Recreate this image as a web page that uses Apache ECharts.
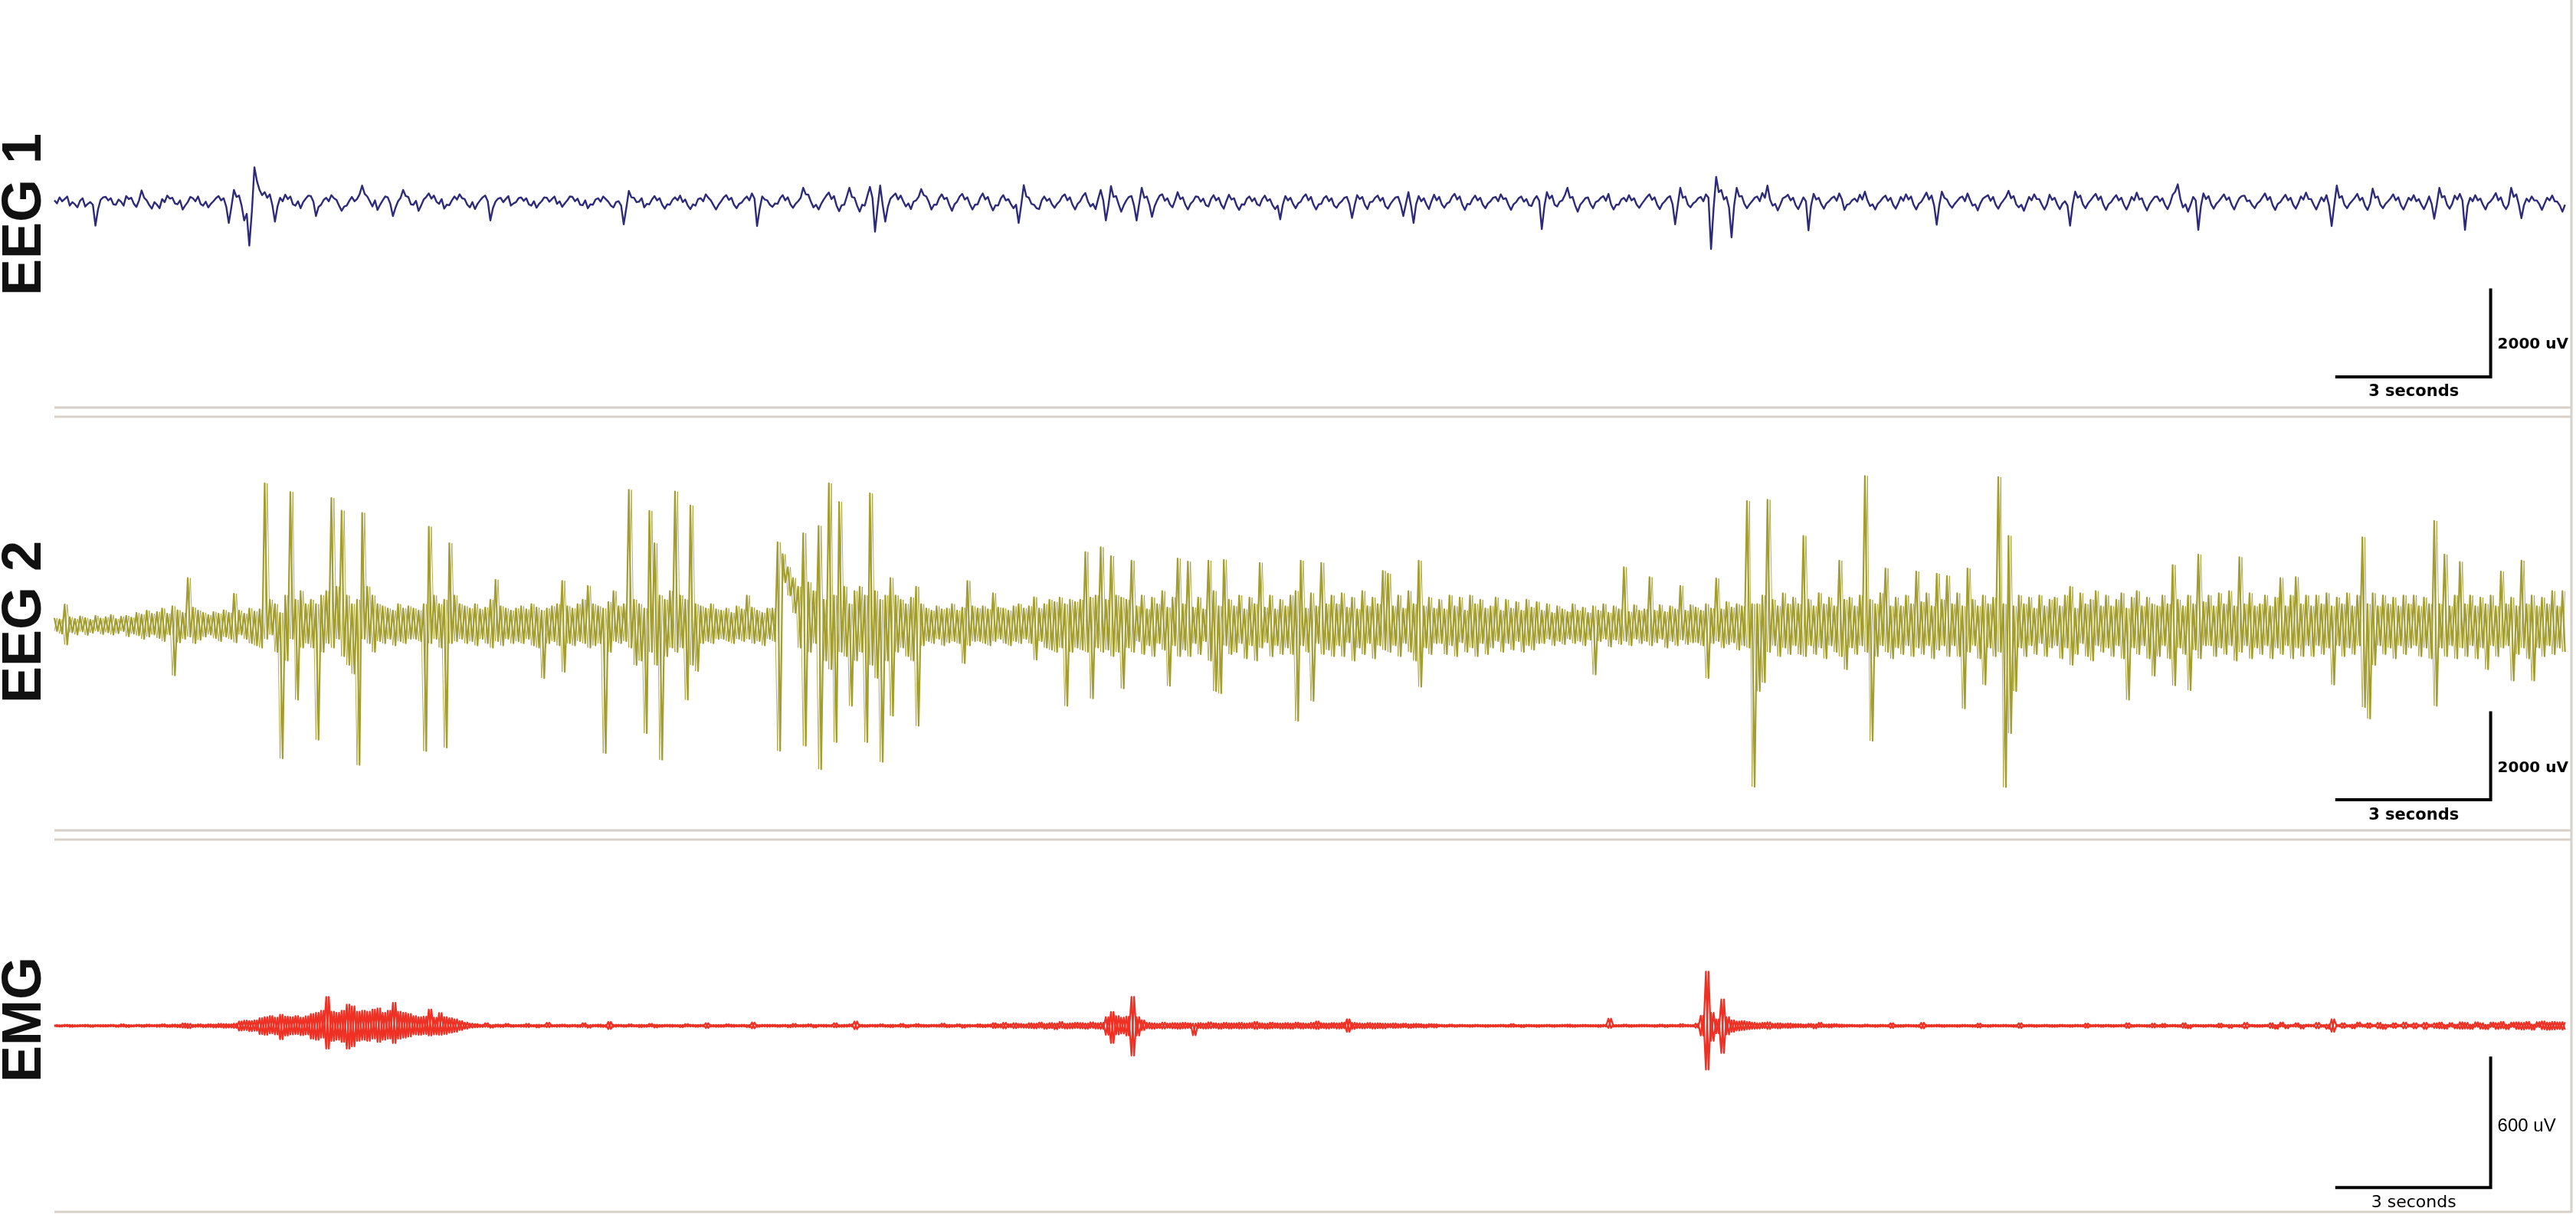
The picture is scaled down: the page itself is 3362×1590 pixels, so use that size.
<!DOCTYPE html>
<html>
<head>
<meta charset="utf-8">
<script src="https://cdn.jsdelivr.net/npm/echarts@6/dist/echarts.min.js"></script>
<style>html,body{margin:0;padding:0;background:#fff;}#chart{width:3362px;height:1590px;}</style>
</head>
<body>
<div id="chart"></div>
<script>
// ---------------- data ----------------
const channelLabels = ['EEG 1', 'EEG 2', 'EMG'];
const scaleBarUnits = ['2000 uV', '2000 uV', '600 uV'];
const scaleBarAmplitude = [2000, 2000, 600];   // uV
const scaleBarDuration = 3;                     // seconds
const scaleBarTimeLabel = '3 seconds';
const eeg1Step = 0.05;                          // seconds per EEG 1 sample
const binStep = 0.1;                            // seconds per EEG 2 / EMG bin
const recordLength = 49;                        // seconds shown

// EEG 1 : one sample every 0.05 s (uV), one second per row
const eeg1 = [
60,-10,130,40,90,150,-60,20,-30,-100,50,110,-80,-20,20,-40,-520,-150,70,130,
140,60,110,-30,-40,80,30,-60,160,90,120,-20,-90,60,290,120,60,-50,-130,20,
-40,-120,90,20,170,100,120,-10,-30,60,-150,-60,20,140,110,40,150,-20,-60,30,
-100,-20,40,110,160,60,110,-80,-460,-100,300,140,170,-60,-400,-250,-980,-200,820,500,
300,180,250,120,200,-50,-430,-80,120,40,190,90,150,-30,-60,40,-120,20,100,170,
160,30,-300,-90,-40,70,120,40,180,110,70,-60,-180,-80,-60,50,140,40,90,200,
400,210,150,40,-80,60,-160,-40,60,150,130,-20,-300,-110,40,120,300,160,140,-30,
-40,50,-180,-60,80,140,220,100,170,30,-20,90,-130,-40,-50,60,150,80,200,110,
90,-40,-100,20,-140,-20,60,130,170,40,-400,-120,30,100,120,20,90,160,-60,-10,
20,110,130,50,110,-30,-60,40,-110,-20,40,130,120,30,90,150,-20,40,-90,-10,
60,150,140,40,100,-40,-50,60,-120,-30,-40,80,110,30,150,90,30,-60,-100,20,
40,-60,-490,-120,280,130,120,20,30,110,-100,-20,-30,80,160,60,110,-40,-130,-30,
-40,70,130,60,170,20,80,-60,-140,-30,-60,90,110,40,200,120,60,-50,-150,-40,
40,130,180,70,120,-40,-120,-20,10,90,150,60,220,100,-530,-140,150,80,60,-40,
-90,-10,-20,110,180,60,130,-30,-110,-20,40,120,350,200,190,30,-100,-40,-150,-20,
80,170,240,90,160,-60,-190,-50,-40,150,350,140,120,-60,-200,-40,-60,160,370,120,
-660,-100,400,-50,-430,-90,100,160,220,80,170,40,-80,-10,-140,30,60,140,320,180,
150,20,-150,-40,-40,110,200,90,120,-50,-180,-30,30,150,210,80,130,-30,-150,-40,
-30,120,220,80,140,-40,-170,-50,-60,100,180,60,90,-30,-120,-40,-460,-50,410,150,
120,-20,-40,-120,-140,60,150,50,100,-30,-110,-20,40,150,200,60,130,-40,-150,-20,
40,160,230,40,-80,-20,-140,90,300,60,-400,-60,390,140,160,-30,-200,-50,60,140,
160,-60,-400,-20,350,120,150,-40,-320,-80,60,170,200,50,110,-30,-100,60,250,90,
130,-40,-150,-20,40,150,140,30,100,-50,-80,90,180,60,120,-40,-130,40,190,80,
110,-60,-160,-30,-40,100,150,40,110,-30,-60,90,170,50,90,-50,-140,-60,-375,-40,
160,60,120,-20,-120,-10,30,140,200,60,140,-40,-150,-30,-20,110,160,40,110,-60,
-110,-10,40,120,140,-30,-345,-60,180,90,140,-40,-140,20,30,120,170,50,120,-70,
-130,-20,60,130,140,-40,-300,-20,250,-60,-460,-30,160,40,110,-30,-140,40,190,60,
140,-30,-110,-10,20,140,210,80,150,-40,-160,-20,-30,90,170,60,120,-40,-120,-10,
40,120,140,40,200,90,110,-40,-160,-30,20,110,150,30,90,-50,-70,80,160,50,
-600,-80,250,100,170,-40,-80,30,60,180,350,120,140,-50,-200,-40,30,110,130,-30,
-120,20,50,120,160,50,210,-30,-150,-40,-40,80,120,40,180,60,110,-40,-110,-20,
60,140,200,70,130,-40,-140,-20,40,120,160,-30,-490,-60,350,120,150,-40,-100,-10,
30,110,140,40,200,120,-1060,-120,600,250,300,80,140,-100,-790,-60,350,150,160,-20,
-120,-30,40,120,150,40,230,120,400,80,-60,-20,-170,-40,110,140,190,60,120,-50,
-140,-10,130,40,-630,-60,210,80,120,-30,-130,-10,40,110,150,50,220,90,-160,-40,
-20,60,100,30,190,80,260,60,-70,-30,-150,-20,40,120,170,50,120,-40,-130,-10,
140,50,200,80,150,-40,-150,-20,30,130,240,80,170,-60,-500,-50,260,120,80,-40,
-110,-20,50,120,150,40,220,70,-60,-30,-170,-10,100,140,180,50,140,-40,-130,-20,
60,140,280,110,160,-30,-100,-40,-180,-20,140,60,200,90,90,-40,-150,-30,190,70,
120,-30,-140,-20,40,-60,-520,-40,260,120,170,-30,-120,-10,60,140,210,70,150,-40,
-160,-30,20,110,180,60,120,-40,-150,-20,140,60,240,80,110,-50,-170,-30,60,140,
150,40,110,-40,-140,-10,190,260,430,100,-100,-30,-200,-40,140,60,-620,-80,220,90,
160,-30,-130,-20,40,120,200,70,130,-40,-150,-10,110,160,170,40,60,-50,-120,-10,
40,130,220,70,140,-50,-160,-20,20,110,190,60,120,-40,-130,-10,150,80,240,90,
90,-40,-150,-10,130,40,180,-60,-530,-50,400,120,160,-40,-120,-20,50,120,210,60,
120,-60,-160,-10,330,120,150,-40,-120,-20,40,110,200,60,130,-50,-150,-20,120,60,
180,40,90,-40,-140,-10,150,-20,-360,-40,350,130,160,-40,-130,-20,170,80,210,60,
-620,-70,120,40,180,60,100,-40,-150,-10,40,120,230,60,130,-50,-140,-30,350,140,
200,-40,-350,-50,100,30,150,60,60,-30,-160,-20,120,60,170,40,30,-60,-200,-40
];

// EEG 2 : highest and lowest value inside each 0.1 s bin (uV)
const eeg2Max = [
180,150,490,200,160,220,180,140,230,170,
200,250,160,210,230,190,300,260,350,280,
320,400,280,450,360,300,1100,420,350,300,
250,320,280,360,300,740,350,280,400,330,
380,3280,600,500,300,700,3080,600,800,500,
600,500,700,800,2940,900,2650,700,500,600,
2600,900,700,500,450,400,350,500,400,450,
400,350,500,2280,700,500,600,1900,700,500,
450,400,500,380,420,600,1060,450,400,350,
400,450,380,500,420,350,400,450,500,1035,
450,400,500,600,920,500,450,400,550,800,
450,500,3130,600,500,400,2645,1900,700,600,
800,3090,700,600,2770,500,450,400,500,380,
350,400,300,450,380,700,420,350,300,400,
400,1925,1650,1350,1100,900,2130,1000,800,2300,
600,3280,700,2850,900,500,800,900,700,3050,
800,600,700,1100,700,600,500,650,900,500,
400,350,450,380,400,500,350,420,1035,450,
400,450,380,750,420,400,350,450,500,400,
450,660,400,500,600,550,650,500,600,550,
600,1700,650,700,1810,600,1600,700,650,600,
1500,450,700,380,650,500,800,420,650,1550,
500,1480,420,650,380,1500,800,450,1520,600,
450,700,380,650,500,1450,420,700,380,600,
450,700,800,1500,400,750,450,1450,500,700,
500,750,420,650,380,800,450,650,500,1265,
1200,450,700,400,800,500,1500,450,650,400,
600,380,700,450,650,350,700,500,600,400,
450,650,350,600,400,550,350,600,420,550,
350,500,300,450,380,320,500,350,420,300,
450,350,500,300,450,380,1350,320,480,350,
380,1120,350,480,320,450,380,920,350,480,
420,350,500,400,1090,380,550,420,500,450,
2870,500,500,700,2900,600,450,750,500,650,
500,2070,600,450,750,500,650,450,1500,600,
650,450,700,3450,600,500,750,1320,450,650,
450,700,500,1250,550,750,450,1200,600,1150,
500,750,450,1320,600,450,700,500,650,3420,
500,2070,450,700,500,650,400,700,450,600,
650,450,700,900,400,750,500,600,800,450,
700,450,600,750,400,650,800,450,650,500,
450,700,500,1400,600,450,700,500,1640,550,
700,450,750,500,800,450,1580,500,750,450,
500,700,450,650,1100,450,700,1120,500,700,
450,700,500,750,450,650,500,750,450,700,
2040,500,750,450,700,500,650,450,700,500,
700,450,650,500,2415,500,1640,450,700,1470,
500,700,450,650,500,700,450,1250,500,650,
450,1500,500,700,450,650,500,800,450,800
];
const eeg2Min = [
-120,-180,-430,-150,-200,-130,-210,-160,-120,-190,
-150,-200,-170,-120,-240,-180,-220,-300,-250,-200,
-280,-350,-200,-1140,-380,-300,-250,-400,-320,-250,
-200,-280,-350,-250,-300,-380,-200,-300,-400,-450,
-500,-300,-200,-600,-3050,-800,-300,-1700,-500,-400,
-500,-2620,-600,-400,-500,-300,-700,-900,-1100,-3200,
-300,-400,-600,-350,-400,-300,-450,-350,-400,-300,
-300,-350,-2880,-400,-300,-500,-2800,-400,-350,-300,
-400,-350,-450,-300,-400,-500,-350,-450,-300,-400,
-350,-400,-300,-450,-500,-1200,-400,-350,-450,-1060,
-400,-450,-350,-400,-500,-450,-400,-2930,-600,-350,
-400,-350,-500,-900,-800,-2470,-600,-900,-3080,-700,
-500,-600,-500,-1700,-900,-1040,-400,-350,-400,-300,
-300,-350,-400,-300,-350,-300,-400,-350,-450,-300,
-350,-2875,1000,700,300,-500,-2760,-600,-400,-3300,
-800,-1000,-2675,-600,-700,-1840,-800,-600,-2675,-900,
-1200,-3130,-800,-2070,-600,-500,-700,-800,-2300,-450,
-350,-400,-300,-450,-380,-350,-400,-860,-450,-350,
-350,-400,-450,-350,-300,-400,-450,-350,-400,-300,
-400,-780,-350,-500,-550,-600,-500,-1840,-600,-500,
-550,-600,-1670,-500,-600,-550,-700,-600,-1440,-500,
-600,-350,-650,-450,-700,-400,-550,-1380,-450,-700,
-550,-700,-400,-650,-350,-800,-1500,-1550,-450,-650,
-600,-400,-750,-450,-800,-500,-380,-700,-450,-650,
-500,-650,-2185,-450,-600,-1725,-400,-650,-550,-700,
-450,-700,-380,-800,-500,-650,-400,-750,-450,-550,
-600,-450,-700,-400,-600,-800,-1400,-500,-650,-400,
-400,-650,-450,-700,-380,-600,-500,-700,-400,-650,
-500,-350,-600,-400,-550,-350,-600,-450,-550,-400,
-400,-300,-450,-350,-420,-300,-400,-350,-450,-320,
-1120,-350,-300,-480,-320,-420,-350,-450,-300,-400,
-350,-450,-380,-300,-500,-350,-450,-320,-420,-380,
-380,-450,-1200,-400,-350,-500,-420,-380,-550,-450,
-500,-3700,-1500,-1300,-600,-450,-700,-500,-650,-450,
-650,-700,-450,-650,-500,-750,-450,-600,-700,-1000,
-500,-650,-450,-600,-2645,-700,-450,-600,-750,-500,
-650,-450,-700,-500,-650,-450,-750,-550,-450,-700,
-450,-700,-1900,-600,-450,-750,-1350,-500,-700,-600,
-3710,-2470,-1500,-500,-700,-450,-650,-400,-700,-500,
-450,-750,-500,-900,-650,-400,-700,-800,-450,-600,
-500,-700,-450,-750,-1700,-500,-650,-450,-750,-1150,
-700,-450,-750,-1370,-500,-650,-1480,-550,-750,-450,
-450,-700,-500,-650,-450,-800,-600,-450,-750,-500,
-650,-450,-750,-500,-650,-450,-750,-500,-700,-450,
-700,-450,-650,-500,-1350,-450,-700,-500,-650,-450,
-1870,-2130,-900,-450,-650,-500,-750,-450,-650,-500,
-450,-700,-500,-750,-1840,-500,-700,-450,-750,-500,
-700,-450,-750,-500,-1000,-450,-700,-500,-450,-1260,
-650,-500,-750,-1260,-500,-700,-450,-650,-500,-600
];

// EMG : highest and lowest value inside each 0.1 s bin (uV)
const emgMax = [
4,3,5,4,3,4,5,3,4,4,
4,5,3,7,4,3,5,4,6,4,
5,7,4,6,5,11,9,5,7,5,
7,6,9,8,7,10,20,24,22,25,
35,40,45,38,51,42,40,45,38,44,
55,60,70,134,65,60,70,98,90,65,
70,65,75,80,60,70,106,65,60,55,
45,40,42,75,38,59,40,35,30,22,
15,10,8,5,12,4,6,5,9,4,
4,5,9,4,5,4,14,4,5,6,
4,5,4,12,4,5,6,4,18,5,
5,4,7,4,5,4,9,5,4,5,
5,4,4,8,5,4,5,12,4,4,
4,7,5,4,5,4,15,4,5,5,
5,4,5,4,9,4,5,7,4,5,
5,4,12,4,5,7,20,5,4,5,
5,7,4,5,4,9,4,5,8,5,
4,5,5,10,5,4,7,5,5,4,
7,5,6,12,7,14,8,12,9,7,
12,10,15,9,13,11,18,10,12,14,
13,11,16,12,14,40,64,45,38,42,
134,40,25,14,12,10,15,11,13,12,
14,12,10,13,11,16,12,10,14,12,
12,14,11,13,18,12,10,15,12,11,
13,11,15,12,10,14,20,12,11,13,
12,15,30,14,12,10,13,11,12,10,
9,11,8,10,7,9,8,6,8,7,
5,4,6,4,5,4,4,5,4,4,
4,4,5,4,8,4,4,5,4,4,
4,5,4,4,5,6,4,4,5,4,
4,4,5,33,4,4,6,4,4,5,
5,4,4,6,4,5,4,8,5,4,
10,47,251,60,30,122,40,25,20,22,
18,15,12,14,16,10,12,9,11,8,
8,6,9,7,14,6,7,8,6,5,
5,4,4,6,4,4,5,4,12,4,
4,5,4,4,14,4,4,5,4,4,
4,4,5,4,4,10,4,4,5,4,
5,4,4,12,4,5,4,4,5,4,
4,5,4,4,5,4,10,4,5,4,
5,4,4,5,12,4,5,4,4,10,
4,9,4,5,4,12,4,5,4,4,
5,4,10,4,5,4,4,14,5,4,
4,5,12,4,15,4,5,12,4,6,
5,14,4,6,30,5,12,4,6,15,
6,12,5,14,6,4,12,5,15,6,
12,5,14,6,12,15,5,13,6,16,
14,6,16,12,5,15,13,18,6,15,
16,14,18,6,17,20,15,18,16,17
];
const emgMin = [
-3,-4,-3,-5,-4,-3,-4,-5,-3,-4,
-4,-3,-5,-4,-6,-4,-3,-5,-4,-3,
-5,-4,-6,-5,-7,-9,-11,-6,-5,-7,
-6,-8,-7,-9,-8,-10,-22,-20,-25,-23,
-38,-42,-35,-40,-62,-45,-40,-38,-44,-40,
-60,-65,-55,-106,-70,-65,-75,-106,-95,-70,
-65,-70,-60,-75,-65,-60,-80,-60,-55,-50,
-40,-42,-38,-45,-40,-42,-38,-32,-28,-20,
-14,-9,-7,-6,-5,-9,-5,-6,-4,-5,
-4,-5,-6,-4,-8,-4,-7,-4,-5,-4,
-5,-4,-6,-5,-9,-4,-5,-6,-15,-5,
-4,-5,-4,-4,-7,-5,-4,-8,-5,-4,
-5,-4,-7,-4,-4,-5,-4,-10,-4,-5,
-5,-4,-5,-4,-4,-7,-12,-5,-4,-5,
-4,-5,-4,-7,-5,-4,-5,-4,-8,-4,
-5,-4,-7,-5,-5,-4,-16,-5,-5,-4,
-5,-4,-5,-7,-4,-5,-8,-4,-5,-5,
-5,-4,-5,-5,-7,-5,-4,-9,-5,-4,
-6,-7,-5,-10,-8,-12,-7,-11,-8,-9,
-10,-12,-9,-14,-11,-16,-10,-13,-12,-10,
-12,-14,-10,-13,-15,-42,-80,-40,-36,-45,
-138,-45,-20,-12,-14,-11,-13,-10,-12,-14,
-12,-10,-44,-11,-13,-12,-10,-14,-11,-13,
-11,-13,-12,-10,-15,-11,-14,-12,-10,-13,
-12,-14,-10,-13,-11,-12,-15,-11,-13,-10,
-13,-12,-28,-15,-11,-12,-10,-13,-11,-12,
-8,-10,-9,-7,-10,-8,-7,-9,-6,-8,
-4,-5,-4,-5,-4,-4,-5,-4,-4,-5,
-4,-4,-4,-5,-5,-4,-7,-4,-4,-5,
-4,-4,-5,-4,-4,-5,-5,-4,-4,-4,
-4,-5,-4,-10,-4,-4,-4,-5,-4,-4,
-4,-4,-5,-4,-6,-4,-4,-5,-4,-4,
-9,-45,-203,-70,-35,-126,-40,-28,-22,-20,
-16,-14,-13,-11,-15,-10,-12,-9,-10,-8,
-7,-8,-6,-12,-7,-6,-8,-5,-6,-5,
-4,-4,-5,-4,-4,-5,-4,-4,-10,-5,
-5,-4,-4,-5,-12,-4,-4,-4,-5,-4,
-4,-5,-4,-4,-5,-8,-4,-5,-4,-4,
-4,-4,-5,-10,-4,-4,-5,-4,-4,-5,
-5,-4,-4,-5,-4,-4,-9,-4,-4,-5,
-4,-5,-4,-4,-10,-5,-4,-4,-5,-8,
-5,-7,-4,-4,-5,-10,-12,-4,-4,-5,
-4,-5,-8,-4,-10,-4,-5,-12,-4,-5,
-5,-4,-10,-14,-4,-12,-4,-5,-13,-4,
-4,-12,-5,-14,-28,-4,-10,-5,-12,-4,
-5,-10,-4,-12,-15,-5,-10,-4,-12,-5,
-12,-4,-15,-5,-10,-12,-14,-5,-12,-14,
-13,-15,-5,-14,-16,-6,-15,-12,-16,-6,
-15,-17,-14,-18,-6,-16,-19,-17,-15,-18
];

// ---------------- layout / style ----------------
const panels = [
  { top: 4,      height: 522,   min: -4600, max: 4600, color: '#2e2a7a', width: 2.4, mirrorWidth: 0,   barBottom: -4000, unitY: -3250, timeY: -4350, labelY: 280,  unitFont: 'bold 20px "DejaVu Sans"', timeFont: 'bold 21px "DejaVu Sans"' },
  { top: 556,    height: 522,   min: -4600, max: 4600, color: '#a39d2e', width: 2.2, mirrorWidth: 0.8, barBottom: -4000, unitY: -3280, timeY: -4370, labelY: 812,  unitFont: 'bold 20px "DejaVu Sans"', timeFont: 'bold 21px "DejaVu Sans"' },
  { top: 1099.6, height: 478.9, min: -850,  max: 850,  color: '#ee3124', width: 2.3, mirrorWidth: 2.3, barBottom: -750,  unitY: -465,  timeY: -820,  labelY: 1331, unitFont: '24px "Liberation Sans"', timeFont: '22px "DejaVu Sans"' }
];
const barEnd = 47.5;           // seconds (vertical bar position)
const gridLeft = 71, gridWidth = 3280;

function sampled(values, step) {
  return values.map((v, i) => [+(i * step).toFixed(3), v]);
}
// zig-zag through each bin's extremes; phase 0 = max first, phase 1 = min first
function envelope(maxArr, minArr, phase) {
  const out = [];
  for (let i = 0; i < maxArr.length; i++) {
    const t = i * binStep;
    const a = phase ? minArr[i] : maxArr[i];
    const b = phase ? maxArr[i] : minArr[i];
    out.push([+t.toFixed(3), a]);
    out.push([+(t + binStep / 2).toFixed(3), b]);
  }
  return out;
}
const traces = [
  [sampled(eeg1, eeg1Step)],
  [envelope(eeg2Max, eeg2Min, 0), envelope(eeg2Max, eeg2Min, 1)],
  [envelope(emgMax, emgMin, 0), envelope(emgMax, emgMin, 1)]
];

const chart = echarts.init(document.getElementById('chart'), null, { renderer: 'canvas' });
const grids = [], xAxes = [], yAxes = [], series = [];
panels.forEach((p, k) => {
  grids.push({ left: gridLeft, width: gridWidth, top: p.top, height: p.height, containLabel: false });
  xAxes.push({ type: 'value', gridIndex: k, min: 0, max: recordLength, show: false });
  yAxes.push({ type: 'value', gridIndex: k, min: p.min, max: p.max, show: false });
  traces[k].forEach((d, j) => {
    const w = j === 0 ? p.width : p.mirrorWidth;
    if (!w) return;
    series.push({
      type: 'line', xAxisIndex: k, yAxisIndex: k, data: d, z: j === 0 ? 3 : 2,
      symbol: 'none', showSymbol: false, clip: false, silent: true,
      lineStyle: { color: p.color, width: w, join: 'round' }
    });
  });
  series.push({
    type: 'line', xAxisIndex: k, yAxisIndex: k, z: 4,
    data: [[barEnd - scaleBarDuration, p.barBottom], [barEnd, p.barBottom], [barEnd, p.barBottom + scaleBarAmplitude[k]]],
    symbol: 'none', showSymbol: false, clip: false, silent: true,
    lineStyle: { color: '#000', width: 4, cap: 'square', join: 'miter' }
  });
});

chart.setOption({
  animation: false,
  backgroundColor: '#ffffff',
  grid: grids, xAxis: xAxes, yAxis: yAxes, series: series
});

// texts & panel frames
const graphics = [];
const frameColor = '#d8d1ca';
const frameLines = [532, 544, 1084, 1096, 1582];
frameLines.forEach(y => graphics.push({ type: 'line', silent: true, shape: { x1: 71, y1: y, x2: 3356, y2: y }, style: { stroke: frameColor, lineWidth: 3 } }));
graphics.push({ type: 'line', silent: true, shape: { x1: 3356, y1: 0, x2: 3356, y2: 1583 }, style: { stroke: frameColor, lineWidth: 3 } });

panels.forEach((p, k) => {
  const uPos = chart.convertToPixel({ gridIndex: k }, [barEnd, p.unitY]);
  const tPos = chart.convertToPixel({ gridIndex: k }, [barEnd - scaleBarDuration / 2, p.timeY]);
  graphics.push({ type: 'text', silent: true, x: uPos[0] + 9, y: uPos[1],
    style: { text: scaleBarUnits[k], font: p.unitFont, fill: '#000', textAlign: 'left', textVerticalAlign: 'middle' } });
  graphics.push({ type: 'text', silent: true, x: tPos[0], y: tPos[1],
    style: { text: scaleBarTimeLabel, font: p.timeFont, fill: '#000', textAlign: 'center', textVerticalAlign: 'middle' } });
  graphics.push({ type: 'text', silent: true, x: 33, y: p.labelY, rotation: Math.PI / 2,
    style: { text: channelLabels[k], font: 'bold 72px "Liberation Sans"', fill: '#111', textAlign: 'center', textVerticalAlign: 'middle' } });
});
chart.setOption({ graphic: graphics });
</script>
</body>
</html>
